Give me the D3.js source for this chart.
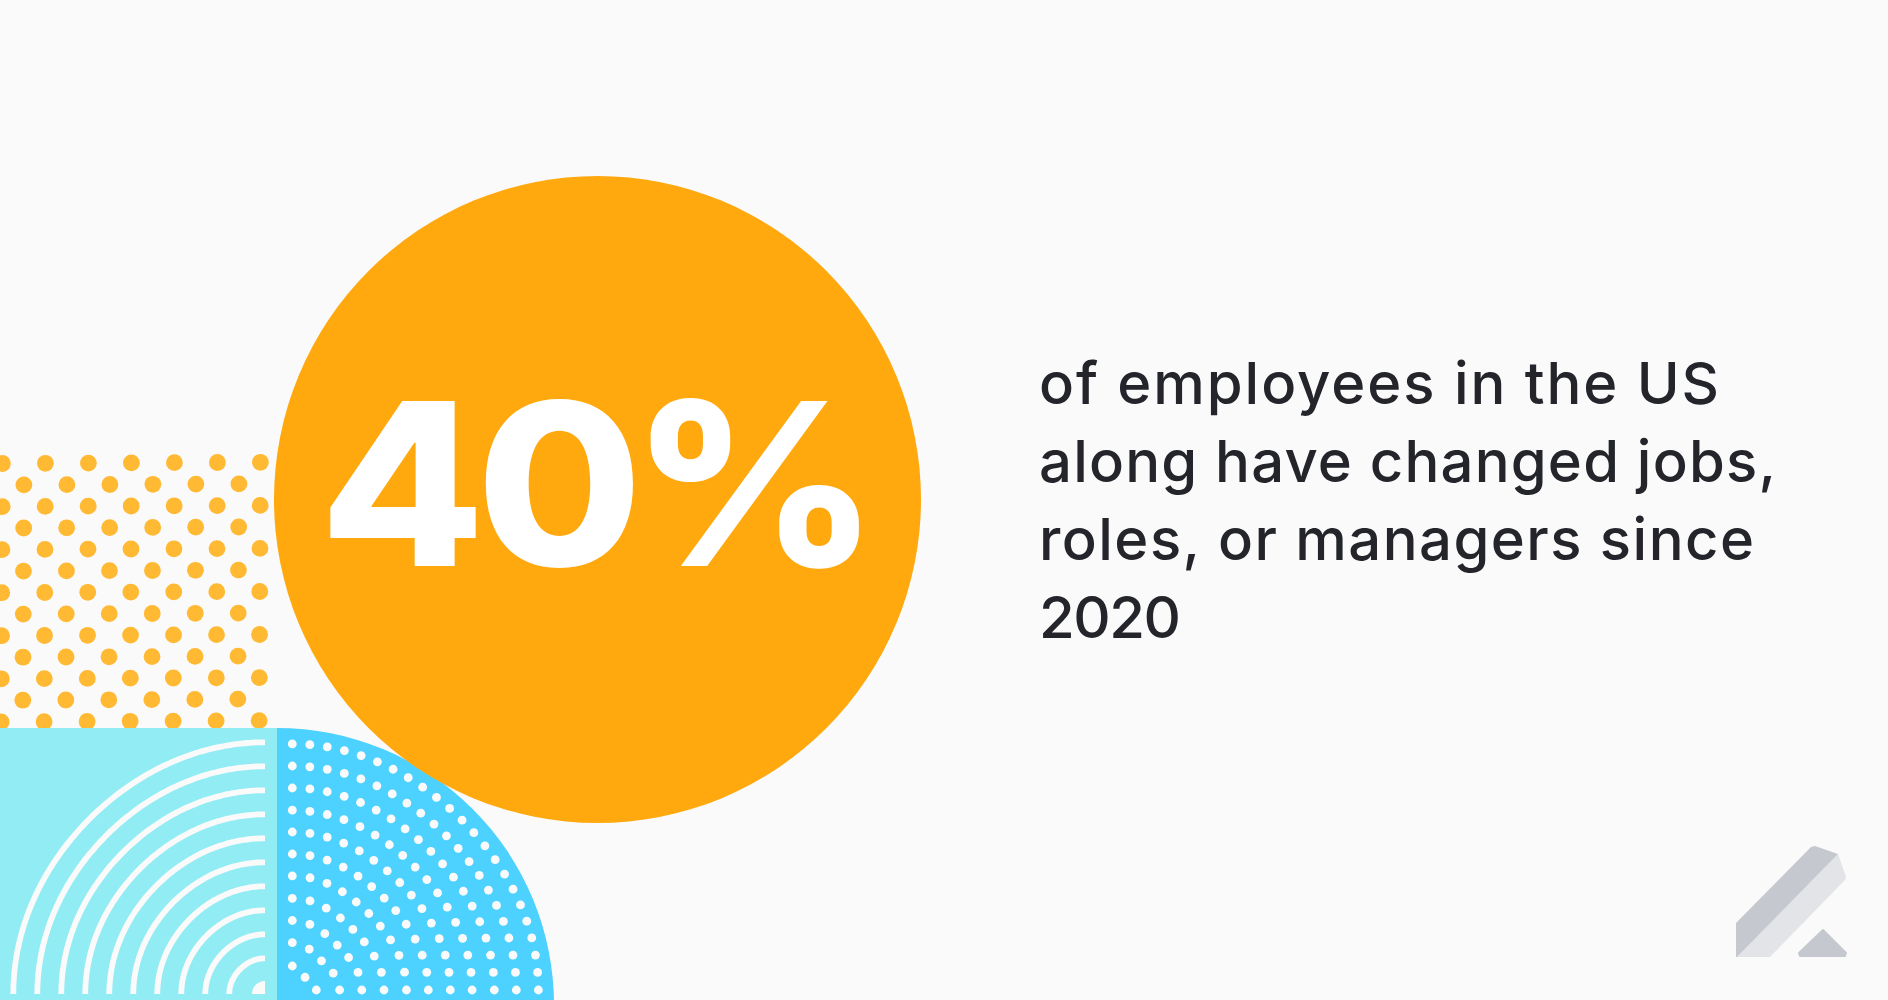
<!DOCTYPE html>
<html><head><meta charset="utf-8">
<script src="https://cdnjs.cloudflare.com/ajax/libs/d3/7.8.5/d3.min.js"></script>
<style>html,body{margin:0;padding:0;background:#fafafa;overflow:hidden}svg{display:block}</style>
</head><body><div id="c"></div>
<script>
// Content
const headline = "40%";
const headlineX = [-10, 138, 284];
const bodyLines = ["of employees in the US","along have changed jobs,","roles, or managers since","2020"];
const bodyWidths = [680, 737, 715, 142];
const bodyBaselines = [404, 482, 560, 637.5];

// Yellow dot lattice
const yellowRowsY = [463.5,485,506.6,528.1,549.6,571.2,592.7,614.2,635.7,657.3,678.8,700.3,721.9];
const yellowColsA = [2.4,45.4,88.4,131.4,174.4,217.4,260.4];
const yellowColsB = [24,67,110,153,196,239];

// Pale-blue quarter: concentric line radii
const lineRadii = [251.7,227.7,203.7,179.7,155.7,131.7,107.7,83.7,59.7,35.7];
const wedgeRadius = 13;

// Blue quarter: radius of each dotted arc
const dotArcRadii = [24,47.3,69.5,91.7,114.2,136,158,179.8,202,224,246.1];

// Logo outlines
const logoDark = [[1736,923],[1811,847],[1815,846],[1838,854],[1737,957],[1736,957]];
const logoLight = [[1838,854],[1846,877],[1845,880],[1770,957],[1737,957]];
const logoTri = [[1823,930],[1846,953],[1845,956],[1800,956],[1799,953]];

const colors = {bg:"#fafafa",orange:"#ffa90f",yellow:"#ffb933",pale:"#91ecf4",blue:"#4dd2ff",mark:"#fafafa",text:"#23252b",logoD:"#c5c8ce",logoL:"#e2e4e7"};

const W=1888,H=1000;
const svg=d3.select("#c").append("svg").attr("width",W).attr("height",H);
svg.append("rect").attr("width",W).attr("height",H).attr("fill",colors.bg);

// Yellow dots
const gY=svg.append("g").attr("fill",colors.yellow);
yellowRowsY.forEach((y,i)=>{
  (i%2===0?yellowColsA:yellowColsB).forEach(x=>{
    gY.append("circle")
      .attr("cx",x-0.005*(y-463.5))
      .attr("cy",y-0.0047*x)
      .attr("r",8.4);
  });
});

// Pale quarter
svg.append("rect").attr("x",0).attr("y",728).attr("width",277).attr("height",272).attr("fill",colors.pale);
const cx1=265,cy1=994;
const arc=d3.arc();
const gL=svg.append("g").attr("transform",`translate(${cx1},${cy1})`);
const angles=d3.range(0,91).map(d=>-d*Math.PI/180);
lineRadii.forEach(R=>{
  const rad=d3.lineRadial().angle(a=>a).radius(a=>{const s=Math.sin(2*a);return R*(1-0.015*s*s);}).curve(d3.curveCatmullRom);
  gL.append("path").attr("d",rad(angles)).attr("fill","none").attr("stroke",colors.mark).attr("stroke-width",5.8);
});
gL.append("path").attr("fill",colors.mark).attr("d",arc({innerRadius:0,outerRadius:wedgeRadius,startAngle:-Math.PI/2,endAngle:0}));

// Blue quarter
svg.append("path").attr("transform","translate(277,1005)").attr("fill",colors.blue)
  .attr("d",arc({innerRadius:0,outerRadius:277,startAngle:0,endAngle:Math.PI/2}));
const gB=svg.append("g").attr("fill",colors.mark);
const cx2=292.3,cy2=990;
dotArcRadii.forEach((R,k0)=>{
  const n=2*(k0+1);
  const ang=d3.scaleLinear().domain([0,n]).range([0,Math.PI/2]);
  d3.range(n+1).forEach(j=>{
    const t=ang(j), s=Math.sin(2*t);
    const r=R-6*s*s;
    gB.append("circle").attr("cx",cx2+r*Math.sin(t)).attr("cy",cy2-r*Math.cos(t)).attr("r",4.4);
  });
});

// Orange circle
svg.append("circle").attr("cx",597.5).attr("cy",499.5).attr("r",323.5).attr("fill",colors.orange);
svg.append("text").text(headline).attr("x",headlineX.join(" ")).attr("y",0)
  .attr("transform","translate(330,566) scale(1.06,1)")
  .attr("font-family","Inter").attr("font-weight",800).attr("font-size",227).attr("fill","#ffffff");

// Body text
bodyLines.forEach((t,i)=>{
  svg.append("text").text(t).attr("x",1039).attr("y",bodyBaselines[i])
    .attr("textLength",bodyWidths[i]).attr("lengthAdjust","spacing")
    .attr("font-family","Inter").attr("font-weight",500).attr("font-size",58).attr("fill",colors.text);
});

// Logo
const line=d3.line().curve(d3.curveLinearClosed);
svg.append("path").attr("d",line(logoLight)).attr("fill",colors.logoL);
svg.append("path").attr("d",line(logoDark)).attr("fill",colors.logoD);
svg.append("path").attr("d",line(logoTri)).attr("fill",colors.logoD).attr("stroke",colors.logoD).attr("stroke-width",2).attr("stroke-linejoin","round");
</script></body></html>
